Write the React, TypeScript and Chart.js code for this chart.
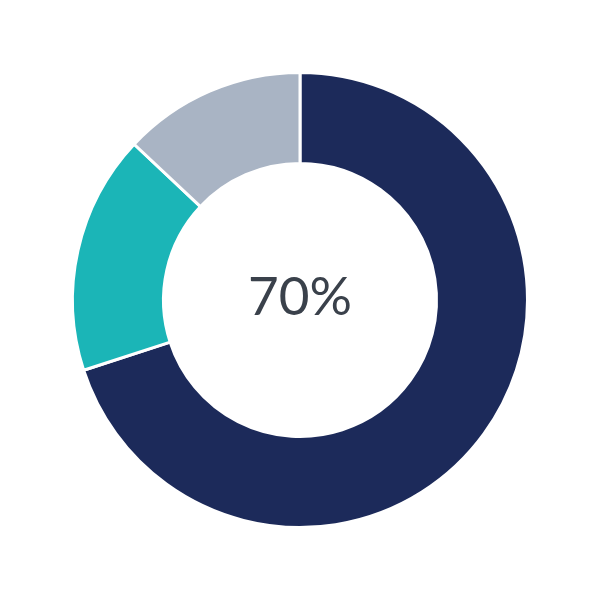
import Chart from "chart.js/auto";
import { useEffect, useRef } from "react";

const labels = ["Share A", "Share B", "Share C"];
const values = [70, 17, 13];
const colors = ["#1c2a5a", "#1bb5b7", "#a9b4c4"];
const centerLabel = "70%";

export default function App() {
  const canvasRef = useRef<HTMLCanvasElement | null>(null);

  useEffect(() => {
    if (!canvasRef.current) return;

    const chart = new Chart(canvasRef.current, {
      type: "doughnut",
      data: {
        labels,
        datasets: [
          {
            data: values,
            backgroundColor: colors,
            borderColor: "#ffffff",
            borderWidth: 3,
          },
        ],
      },
      options: {
        responsive: true,
        maintainAspectRatio: false,
        animation: false,
        cutout: "60%",
        layout: { padding: 71 },
        plugins: {
          legend: { display: false },
          tooltip: { enabled: false },
        },
      },
    });

    return () => chart.destroy();
  }, []);

  return (
    <div style={{ position: "absolute", left: 0, top: 0, width: 600, height: 600 }}>
      <canvas ref={canvasRef} aria-label="doughnut chart" />
      <div
        style={{
          position: "absolute",
          left: 0,
          top: -6,
          width: 600,
          height: 600,
          display: "flex",
          alignItems: "center",
          justifyContent: "center",
          fontFamily: "Lato, sans-serif",
          fontWeight: 400,
          fontSize: 53,
          color: "#3a414b",
          pointerEvents: "none",
        }}
      >
        {centerLabel}
      </div>
    </div>
  );
}
